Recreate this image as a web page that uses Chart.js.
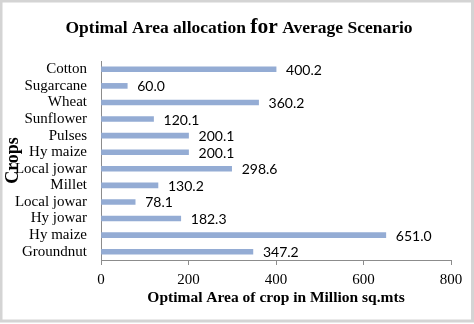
<!DOCTYPE html>
<html>
<head>
<meta charset="utf-8">
<script src="https://cdn.jsdelivr.net/npm/chart.js@4.4.1/dist/chart.umd.min.js"></script>
<style>
  html, body { margin: 0; padding: 0; background: #fff; }
  #wrap { width: 474px; height: 324px; }
</style>
</head>
<body>
<div id="wrap"><canvas id="areaChart" width="474" height="324"></canvas></div>
<script>
const crops = ['Cotton', 'Sugarcane', 'Wheat', 'Sunflower', 'Pulses', 'Hy maize',
    'Local jowar', 'Millet', 'Local jowar', 'Hy jowar', 'Hy maize', 'Groundnut'];
const optimalArea = [400.2, 60.0, 360.2, 120.1, 200.1, 200.1, 298.6, 130.2, 78.1, 182.3, 651.0, 347.2];
const xTicks = [0, 200, 400, 600, 800];

const serif = '"Liberation Serif", "Times New Roman", serif';

// light frame around the whole figure, plus the mixed-size title
const framePlugin = {
    id: 'frame',
    beforeDraw(chart) {
        const c = chart.ctx;
        c.save();
        c.fillStyle = '#fff';
        c.fillRect(0, 0, chart.width, chart.height);
        c.strokeStyle = '#d4d4d4';
        c.lineWidth = 3;
        c.strokeRect(1, 1, chart.width - 2.5, chart.height - 4);
        c.restore();
    },
    afterDraw(chart) {
        const c = chart.ctx;
        const parts = [
            ['Optimal Area allocation ', 'bold 17.5px ' + serif],
            ['for', 'bold 21.5px ' + serif],
            [' Average Scenario', 'bold 17.5px ' + serif]
        ];
        c.save();
        c.fillStyle = '#000';
        c.textBaseline = 'alphabetic';
        let total = 0;
        parts.forEach(p => { c.font = p[1]; total += c.measureText(p[0]).width; });
        let x = 239 - total / 2;
        parts.forEach(p => {
            c.font = p[1];
            c.fillText(p[0], x, 33);
            x += c.measureText(p[0]).width;
        });
        c.restore();
    }
};

// value labels just past the end of each bar
const valueLabels = {
    id: 'valueLabels',
    afterDatasetsDraw(chart) {
        const c = chart.ctx;
        const meta = chart.getDatasetMeta(0);
        c.save();
        c.font = '14px Lato, "Open Sans", sans-serif';
        c.fillStyle = '#000';
        c.textBaseline = 'middle';
        meta.data.forEach((bar, i) => {
            c.fillText(optimalArea[i].toFixed(1), bar.x + 10, bar.y + 1);
        });
        c.restore();
    }
};

new Chart(document.getElementById('areaChart'), {
    type: 'bar',
    data: {
        labels: crops,
        datasets: [{
            data: optimalArea,
            backgroundColor: '#94acd4',
            barThickness: 5
        }]
    },
    options: {
        indexAxis: 'y',
        responsive: false,
        animation: false,
        layout: { padding: { left: 0, right: 23, top: 61, bottom: 0 } },
        plugins: {
            legend: { display: false },
            tooltip: { enabled: false },
            title: { display: false }
        },
        scales: {
            x: {
                min: 0,
                max: 800,
                afterBuildTicks(scale) {
                    scale.ticks = xTicks.map(v => ({ value: v }));
                },
                afterFit(scale) { scale.height = 64; },
                grid: {
                    drawOnChartArea: false,
                    drawTicks: true,
                    tickLength: 5,
                    color: '#8c8c8c'
                },
                border: { display: true, color: '#8c8c8c' },
                ticks: {
                    color: '#000',
                    padding: 6,
                    maxRotation: 0,
                    font: { family: serif, size: 15 }
                },
                title: {
                    display: true,
                    text: 'Optimal Area of crop in Million sq.mts',
                    color: '#000',
                    font: { family: serif, size: 15.5, weight: 'bold' },
                    padding: { top: 0, bottom: 17 }
                }
            },
            y: {
                afterFit(scale) { scale.width = 101; },
                grid: { display: false, drawTicks: false },
                border: { display: true, color: '#8c8c8c' },
                ticks: {
                    color: '#000',
                    padding: 14,
                    autoSkip: false,
                    font: { family: serif, size: 15 }
                },
                title: {
                    display: true,
                    text: 'Crops',
                    color: '#000',
                    font: { family: serif, size: 18, weight: 'bold' },
                    padding: { top: 3, bottom: 0 }
                }
            }
        }
    },
    plugins: [framePlugin, valueLabels]
});
</script>
</body>
</html>
